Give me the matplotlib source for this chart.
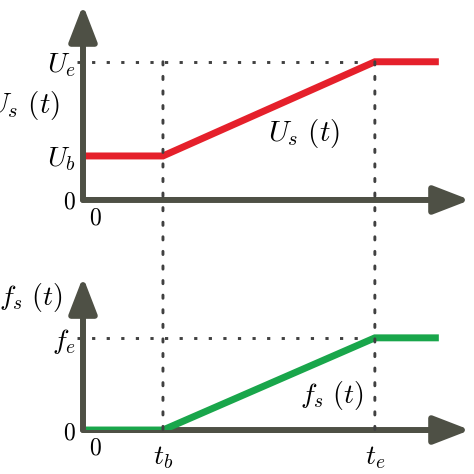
import matplotlib.pyplot as plt
from matplotlib.patches import ConnectionPatch

plt.rcParams['mathtext.fontset'] = 'cm'
plt.rcParams['font.family'] = 'serif'

# time points (t_b = 1)
t = [0, 1.0, 3.65, 4.45]
t_b = 1.0
t_e = 3.65

# voltage curve
u_b = 1.0
u_e = 3.14
u_s = [u_b, u_b, u_e, u_e]

# frequency curve
f_e = 1.0
f_s = [0, 0, f_e, f_e]

axis_color = '#4e5045'
dot_color = '#404040'
red = '#e5202b'
green = '#19a64b'
dots = (0, (1.1, 3.9))

fig = plt.figure(figsize=(4.74, 4.74), dpi=100)
ax1 = fig.add_axes([0.1751, 0.5781, 0.8165, 0.4114])
ax2 = fig.add_axes([0.1751, 0.0928, 0.8165, 0.3228])

ax1.set_xlim(0, 4.84)
ax1.set_ylim(0, 4.43)
ax2.set_xlim(0, 4.84)
ax2.set_ylim(0, 1.66)


def draw_arrow_axes(ax):
    for s in ax.spines.values():
        s.set_visible(False)
    ax.patch.set_visible(False)
    style = '-|>,head_length=2.2,head_width=0.85'
    # x axis
    ax.annotate('', xy=(1, 0), xytext=(0, 0), xycoords='axes fraction',
                arrowprops=dict(arrowstyle=style, lw=4.3, color=axis_color,
                                shrinkA=0, shrinkB=0, mutation_scale=10),
                zorder=3)
    # y axis
    ax.annotate('', xy=(0, 1), xytext=(0, 0), xycoords='axes fraction',
                arrowprops=dict(arrowstyle=style, lw=4.3, color=axis_color,
                                shrinkA=0, shrinkB=0, mutation_scale=10),
                zorder=6)


draw_arrow_axes(ax1)
draw_arrow_axes(ax2)

ax1.plot(t, u_s, color=red, lw=5, solid_capstyle='butt', solid_joinstyle='miter', zorder=4)
ax2.plot(t, f_s, color=green, lw=5, solid_capstyle='butt', solid_joinstyle='miter', zorder=4)

# dotted guides
ax1.plot([-0.075, t_e], [u_e, u_e], color=dot_color, lw=2.1, ls=dots, clip_on=False, zorder=2)
ax2.plot([-0.075, t_e], [f_e, f_e], color=dot_color, lw=2.1, ls=dots, clip_on=False, zorder=2)
for tx in (t_b, t_e):
    con = ConnectionPatch(xyA=(tx, u_e), coordsA=ax1.transData,
                          xyB=(tx, -0.076), coordsB=ax2.transData,
                          color=dot_color, lw=2.1, linestyle=dots, zorder=2)
    fig.add_artist(con)

# ticks
ax1.set_xticks([])
ax1.set_yticks([0, u_b, u_e], ['$0$', '$U_b$', '$U_e$'])
ax1.tick_params(axis='y', length=0, pad=5, labelsize=20)
ax1.get_yticklabels()[0].set_fontsize(17)

ax2.set_yticks([0, f_e], ['$0$', '$f_e$'])
ax2.tick_params(axis='y', length=0, pad=5, labelsize=20)
ax2.get_yticklabels()[0].set_fontsize(17)
ax2.set_xticks([t_b, t_e], ['$t_b$', '$t_e$'])
ax2.tick_params(axis='x', length=0, pad=10, labelsize=20)

for ax in (ax1, ax2):
    ax.annotate('$0$', xy=(0, 0), xytext=(4, -5), textcoords='offset points',
                ha='left', va='top', fontsize=17)

# axis labels
ax1.set_ylabel(r'$U_s\ (t)$', rotation=0, fontsize=21, ha='right', va='center')
ax1.yaxis.set_label_coords(-0.059, 0.487)
ax2.set_ylabel(r'$f_s\ (t)$', rotation=0, fontsize=20, ha='right', va='center')
ax2.yaxis.set_label_coords(-0.054, 0.863)

# curve labels
ax1.text(2.76, 1.52, r'$U_s\ (t)$', fontsize=21, ha='center', va='center')
ax2.text(3.11, 0.37, r'$f_s\ (t)$', fontsize=20, ha='center', va='center')

fig.savefig('out.png', dpi=100)
